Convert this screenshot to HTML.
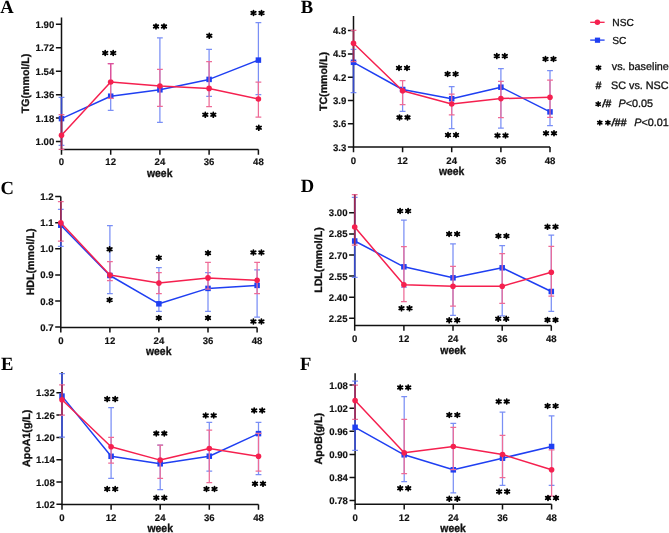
<!DOCTYPE html>
<html><head><meta charset="utf-8"><title>Lipid profile</title><style>
html,body{margin:0;padding:0;background:#fff;}
svg{display:block;will-change:transform;}
text{text-rendering:geometricPrecision;}
.lt{font-family:"Liberation Serif",serif;font-weight:bold;font-size:18.6px;fill:#000;}
.tl{font-family:"Liberation Sans",sans-serif;font-weight:bold;font-size:9.6px;fill:#111;stroke:#111;stroke-width:0.15px;text-rendering:geometricPrecision;}
.tt{font-family:"Liberation Sans",sans-serif;font-weight:bold;font-size:10.65px;fill:#111;stroke:#111;stroke-width:0.3px;}
.wk{font-family:"Liberation Sans",sans-serif;font-weight:bold;font-size:10.4px;fill:#111;stroke:#111;stroke-width:0.3px;}
.lg{font-family:"Liberation Sans",sans-serif;font-size:10.8px;fill:#111;stroke:#111;stroke-width:0.3px;}
.ax{stroke:#111;stroke-width:1.5;fill:none;}
.st2{stroke:#000;stroke-width:1.6;stroke-linecap:round;fill:none;}
.st{stroke:#000;stroke-width:1.8;stroke-linecap:round;fill:none;}
</style></head><body><svg width="669" height="533" viewBox="0 0 669 533">
<rect width="669" height="533" fill="#fff"/>
<text x="0.2" y="12.8" class="lt">A</text>
<path d="M61.5 17.4V149.5H258.4" class="ax"/>
<text transform="translate(54.3 27.84) scale(1 1.0)" class="tl" text-anchor="end">1.90</text>
<text transform="translate(54.3 51.29) scale(1 1.0)" class="tl" text-anchor="end">1.72</text>
<text transform="translate(54.3 74.74) scale(1 1.0)" class="tl" text-anchor="end">1.54</text>
<text transform="translate(54.3 98.19) scale(1 1.0)" class="tl" text-anchor="end">1.36</text>
<text transform="translate(54.3 121.64) scale(1 1.0)" class="tl" text-anchor="end">1.18</text>
<text transform="translate(54.3 145.09) scale(1 1.0)" class="tl" text-anchor="end">1.00</text>
<text transform="translate(61.5 165.04) scale(1 1.0)" class="tl" text-anchor="middle">0</text>
<text transform="translate(110.7 165.04) scale(1 1.0)" class="tl" text-anchor="middle">12</text>
<text transform="translate(159.9 165.04) scale(1 1.0)" class="tl" text-anchor="middle">24</text>
<text transform="translate(209.1 165.04) scale(1 1.0)" class="tl" text-anchor="middle">36</text>
<text transform="translate(258.4 165.04) scale(1 1.0)" class="tl" text-anchor="middle">48</text>
<path d="M55.9 24.3H61.5M55.9 47.75H61.5M55.9 71.2H61.5M55.9 94.65H61.5M55.9 118.1H61.5M55.9 141.55H61.5M61.5 149.5V154.7M110.7 149.5V154.7M159.9 149.5V154.7M209.1 149.5V154.7M258.4 149.5V154.7" class="ax"/>
<text transform="translate(28.6 83.45) rotate(-90)" class="tt" text-anchor="middle">TG(mmol/L)</text>
<text transform="translate(159.7 176.9) scale(1 1.1)" class="wk" text-anchor="middle">week</text>
<path d="M61.5 97.3V145.3M58.6 97.3H64.4M58.6 145.3H64.4M110.7 82V110.3M107.8 82H113.6M107.8 110.3H113.6M159.9 37.8V122.3M157 37.8H162.8M157 122.3H162.8M209.1 49.4V96.4M206.2 49.4H212M206.2 96.4H212M258.4 22.6V94.5M255.5 22.6H261.3M255.5 94.5H261.3" stroke="#7a8ff5" stroke-width="1.25" fill="none"/>
<path d="M61.5 97.3V145.3" stroke="#3548c8" stroke-width="1.5" fill="none"/>
<polyline points="61.5,118.6 110.7,96.2 159.9,89.8 209.1,79.4 258.4,60.1" stroke="#1f3ff2" stroke-width="1.5" fill="none" stroke-linejoin="round"/>
<rect x="58.75" y="115.85" width="5.5" height="5.5" fill="#1f3ff2"/>
<rect x="107.95" y="93.45" width="5.5" height="5.5" fill="#1f3ff2"/>
<rect x="157.15" y="87.05" width="5.5" height="5.5" fill="#1f3ff2"/>
<rect x="206.35" y="76.65" width="5.5" height="5.5" fill="#1f3ff2"/>
<rect x="255.65" y="57.35" width="5.5" height="5.5" fill="#1f3ff2"/>
<path d="M61.5 114.5V149.4M58.6 114.5H64.4M58.6 149.4H64.4M110.7 63.5V98.3M107.8 63.5H113.6M107.8 98.3H113.6M159.9 69.3V106.3M157 69.3H162.8M157 106.3H162.8M209.1 61.5V106.5M206.2 61.5H212M206.2 106.5H212M258.4 82.2V117M255.5 82.2H261.3M255.5 117H261.3" stroke="#ee6c97" stroke-width="1.25" fill="none"/>
<path d="M61.5 114.5V149.4" stroke="#9a2850" stroke-width="1.5" fill="none"/>
<polyline points="61.5,135.3 110.7,82 159.9,86 209.1,88.4 258.4,99" stroke="#f5204f" stroke-width="1.5" fill="none" stroke-linejoin="round"/>
<circle cx="61.5" cy="135.3" r="2.8" fill="#f5204f"/>
<circle cx="110.7" cy="82" r="2.8" fill="#f5204f"/>
<circle cx="159.9" cy="86" r="2.8" fill="#f5204f"/>
<circle cx="209.1" cy="88.4" r="2.8" fill="#f5204f"/>
<circle cx="258.4" cy="99" r="2.8" fill="#f5204f"/>
<path d="M110.7 63.5V79.5M107.8 63.5H113.6" stroke="#d9519f" stroke-width="1.25" fill="none"/>
<path d="M105.20 50.65L105.20 55.35M102.96 51.71L107.44 54.29M107.44 51.71L102.96 54.29M113.20 50.65L113.20 55.35M110.96 51.71L115.44 54.29M115.44 51.71L110.96 54.29M156.00 24.05L156.00 28.75M153.76 25.11L158.24 27.69M158.24 25.11L153.76 27.69M164.00 24.05L164.00 28.75M161.76 25.11L166.24 27.69M166.24 25.11L161.76 27.69M209.30 33.45L209.30 38.15M207.06 34.51L211.54 37.09M211.54 34.51L207.06 37.09M253.50 10.65L253.50 15.35M251.26 11.71L255.74 14.29M255.74 11.71L251.26 14.29M261.50 10.65L261.50 15.35M259.26 11.71L263.74 14.29M263.74 11.71L259.26 14.29M205.30 112.45L205.30 117.15M203.06 113.51L207.54 116.09M207.54 113.51L203.06 116.09M213.30 112.45L213.30 117.15M211.06 113.51L215.54 116.09M215.54 113.51L211.06 116.09M258.80 125.45L258.80 130.15M256.56 126.51L261.04 129.09M261.04 126.51L256.56 129.09" class="st"/>
<text x="300.8" y="13.4" class="lt">B</text>
<path d="M353.5 16V147.1H550" class="ax"/>
<text transform="translate(346.3 34.14) scale(1 1.0)" class="tl" text-anchor="end">4.8</text>
<text transform="translate(346.3 57.44) scale(1 1.0)" class="tl" text-anchor="end">4.5</text>
<text transform="translate(346.3 80.74) scale(1 1.0)" class="tl" text-anchor="end">4.2</text>
<text transform="translate(346.3 104.04) scale(1 1.0)" class="tl" text-anchor="end">3.9</text>
<text transform="translate(346.3 127.34) scale(1 1.0)" class="tl" text-anchor="end">3.6</text>
<text transform="translate(346.3 150.64) scale(1 1.0)" class="tl" text-anchor="end">3.3</text>
<text transform="translate(353.5 163.84) scale(1 1.0)" class="tl" text-anchor="middle">0</text>
<text transform="translate(402.6 163.84) scale(1 1.0)" class="tl" text-anchor="middle">12</text>
<text transform="translate(451.7 163.84) scale(1 1.0)" class="tl" text-anchor="middle">24</text>
<text transform="translate(500.9 163.84) scale(1 1.0)" class="tl" text-anchor="middle">36</text>
<text transform="translate(550 163.84) scale(1 1.0)" class="tl" text-anchor="middle">48</text>
<path d="M347.9 30.6H353.5M347.9 53.9H353.5M347.9 77.2H353.5M347.9 100.5H353.5M347.9 123.8H353.5M347.9 147.1H353.5M353.5 147.1V152.3M402.6 147.1V152.3M451.7 147.1V152.3M500.9 147.1V152.3M550 147.1V152.3" class="ax"/>
<text transform="translate(326.8 81.55) rotate(-90)" class="tt" text-anchor="middle">TC(mmol/L)</text>
<text transform="translate(451.6 175.3) scale(1 1.1)" class="wk" text-anchor="middle">week</text>
<path d="M353.5 49.3V92.6M350.6 49.3H356.4M350.6 92.6H356.4M402.6 88V111.3M399.7 88H405.5M399.7 111.3H405.5M451.7 86.5V128.5M448.8 86.5H454.6M448.8 128.5H454.6M500.9 68.5V128M498 68.5H503.8M498 128H503.8M550 70.5V125.5M547.1 70.5H552.9M547.1 125.5H552.9" stroke="#7a8ff5" stroke-width="1.25" fill="none"/>
<path d="M353.5 49.3V92.6" stroke="#3548c8" stroke-width="1.5" fill="none"/>
<polyline points="353.5,62.3 402.6,89.5 451.7,98.7 500.9,87.2 550,111.9" stroke="#1f3ff2" stroke-width="1.5" fill="none" stroke-linejoin="round"/>
<rect x="350.75" y="59.55" width="5.5" height="5.5" fill="#1f3ff2"/>
<rect x="399.85" y="86.75" width="5.5" height="5.5" fill="#1f3ff2"/>
<rect x="448.95" y="95.95" width="5.5" height="5.5" fill="#1f3ff2"/>
<rect x="498.15" y="84.45" width="5.5" height="5.5" fill="#1f3ff2"/>
<rect x="547.25" y="109.15" width="5.5" height="5.5" fill="#1f3ff2"/>
<path d="M353.5 30.3V61.7M350.6 30.3H356.4M350.6 61.7H356.4M402.6 80.5V104.6M399.7 80.5H405.5M399.7 104.6H405.5M451.7 94.2V114.9M448.8 94.2H454.6M448.8 114.9H454.6M500.9 81.3V117.5M498 81.3H503.8M498 117.5H503.8M550 80.2V117.4M547.1 80.2H552.9M547.1 117.4H552.9" stroke="#ee6c97" stroke-width="1.25" fill="none"/>
<path d="M353.5 30.3V61.7" stroke="#9a2850" stroke-width="1.5" fill="none"/>
<polyline points="353.5,43.3 402.6,90.8 451.7,104 500.9,98.6 550,97.3" stroke="#f5204f" stroke-width="1.5" fill="none" stroke-linejoin="round"/>
<circle cx="353.5" cy="43.3" r="2.8" fill="#f5204f"/>
<circle cx="402.6" cy="90.8" r="2.8" fill="#f5204f"/>
<circle cx="451.7" cy="104" r="2.8" fill="#f5204f"/>
<circle cx="500.9" cy="98.6" r="2.8" fill="#f5204f"/>
<circle cx="550" cy="97.3" r="2.8" fill="#f5204f"/>
<path d="M399.00 65.65L399.00 70.35M396.76 66.71L401.24 69.29M401.24 66.71L396.76 69.29M407.00 65.65L407.00 70.35M404.76 66.71L409.24 69.29M409.24 66.71L404.76 69.29M447.60 71.65L447.60 76.35M445.36 72.71L449.84 75.29M449.84 72.71L445.36 75.29M455.60 71.65L455.60 76.35M453.36 72.71L457.84 75.29M457.84 72.71L453.36 75.29M496.80 53.75L496.80 58.45M494.56 54.81L499.04 57.39M499.04 54.81L494.56 57.39M504.80 53.75L504.80 58.45M502.56 54.81L507.04 57.39M507.04 54.81L502.56 57.39M545.50 56.65L545.50 61.35M543.26 57.71L547.74 60.29M547.74 57.71L543.26 60.29M553.50 56.65L553.50 61.35M551.26 57.71L555.74 60.29M555.74 57.71L551.26 60.29M399.50 115.05L399.50 119.75M397.26 116.11L401.74 118.69M401.74 116.11L397.26 118.69M407.50 115.05L407.50 119.75M405.26 116.11L409.74 118.69M409.74 116.11L405.26 118.69M448.00 132.65L448.00 137.35M445.76 133.71L450.24 136.29M450.24 133.71L445.76 136.29M456.00 132.65L456.00 137.35M453.76 133.71L458.24 136.29M458.24 133.71L453.76 136.29M497.50 133.15L497.50 137.85M495.26 134.21L499.74 136.79M499.74 134.21L495.26 136.79M505.50 133.15L505.50 137.85M503.26 134.21L507.74 136.79M507.74 134.21L503.26 136.79M546.00 130.85L546.00 135.55M543.76 131.91L548.24 134.49M548.24 131.91L543.76 134.49M554.00 130.85L554.00 135.55M551.76 131.91L556.24 134.49M556.24 131.91L551.76 134.49" class="st"/>
<text x="0.5" y="193.7" class="lt">C</text>
<path d="M60.8 196.5V327.4H257.1" class="ax"/>
<text transform="translate(53.6 200.14) scale(1 1.0)" class="tl" text-anchor="end">1.2</text>
<text transform="translate(53.6 226.24) scale(1 1.0)" class="tl" text-anchor="end">1.1</text>
<text transform="translate(53.6 252.34) scale(1 1.0)" class="tl" text-anchor="end">1.0</text>
<text transform="translate(53.6 278.44) scale(1 1.0)" class="tl" text-anchor="end">0.9</text>
<text transform="translate(53.6 304.54) scale(1 1.0)" class="tl" text-anchor="end">0.8</text>
<text transform="translate(53.6 330.64) scale(1 1.0)" class="tl" text-anchor="end">0.7</text>
<text transform="translate(60.8 344.14) scale(1 1.0)" class="tl" text-anchor="middle">0</text>
<text transform="translate(109.9 344.14) scale(1 1.0)" class="tl" text-anchor="middle">12</text>
<text transform="translate(158.9 344.14) scale(1 1.0)" class="tl" text-anchor="middle">24</text>
<text transform="translate(208 344.14) scale(1 1.0)" class="tl" text-anchor="middle">36</text>
<text transform="translate(257.1 344.14) scale(1 1.0)" class="tl" text-anchor="middle">48</text>
<path d="M55.2 196.6H60.8M55.2 222.7H60.8M55.2 248.8H60.8M55.2 274.9H60.8M55.2 301H60.8M55.2 327.1H60.8M60.8 327.4V332.6M109.9 327.4V332.6M158.9 327.4V332.6M208 327.4V332.6M257.1 327.4V332.6" class="ax"/>
<text transform="translate(33.6 261.95) rotate(-90)" class="tt" text-anchor="middle">HDL(mmol/L)</text>
<text transform="translate(158.7 355.1) scale(1 1.1)" class="wk" text-anchor="middle">week</text>
<path d="M60.8 209.3V246.3M57.9 209.3H63.7M57.9 246.3H63.7M109.9 225.5V293.5M107 225.5H112.8M107 293.5H112.8M158.9 267.6V311.3M156 267.6H161.8M156 311.3H161.8M208 272.6V311.3M205.1 272.6H210.9M205.1 311.3H210.9M257.1 269.8V317M254.2 269.8H260M254.2 317H260" stroke="#7a8ff5" stroke-width="1.25" fill="none"/>
<path d="M60.8 209.3V246.3" stroke="#3548c8" stroke-width="1.5" fill="none"/>
<polyline points="60.8,225.2 109.9,275.5 158.9,303.8 208,288.4 257.1,285.4" stroke="#1f3ff2" stroke-width="1.5" fill="none" stroke-linejoin="round"/>
<rect x="58.05" y="222.45" width="5.5" height="5.5" fill="#1f3ff2"/>
<rect x="107.15" y="272.75" width="5.5" height="5.5" fill="#1f3ff2"/>
<rect x="156.15" y="301.05" width="5.5" height="5.5" fill="#1f3ff2"/>
<rect x="205.25" y="285.65" width="5.5" height="5.5" fill="#1f3ff2"/>
<rect x="254.35" y="282.65" width="5.5" height="5.5" fill="#1f3ff2"/>
<path d="M60.8 201.5V241M57.9 201.5H63.7M57.9 241H63.7M109.9 261.7V280.5M107 261.7H112.8M107 280.5H112.8M158.9 272.6V293.5M156 272.6H161.8M156 293.5H161.8M208 262.3V289M205.1 262.3H210.9M205.1 289H210.9M257.1 262.3V293.5M254.2 262.3H260M254.2 293.5H260" stroke="#ee6c97" stroke-width="1.25" fill="none"/>
<path d="M60.8 201.5V241" stroke="#9a2850" stroke-width="1.5" fill="none"/>
<polyline points="60.8,222.8 109.9,275.1 158.9,283.1 208,277.9 257.1,280.3" stroke="#f5204f" stroke-width="1.5" fill="none" stroke-linejoin="round"/>
<circle cx="60.8" cy="222.8" r="2.8" fill="#f5204f"/>
<circle cx="109.9" cy="275.1" r="2.8" fill="#f5204f"/>
<circle cx="158.9" cy="283.1" r="2.8" fill="#f5204f"/>
<circle cx="208" cy="277.9" r="2.8" fill="#f5204f"/>
<circle cx="257.1" cy="280.3" r="2.8" fill="#f5204f"/>
<path d="M109.60 246.95L109.60 251.65M107.36 248.01L111.84 250.59M111.84 248.01L107.36 250.59M158.80 255.45L158.80 260.15M156.56 256.51L161.04 259.09M161.04 256.51L156.56 259.09M208.00 250.75L208.00 255.45M205.76 251.81L210.24 254.39M210.24 251.81L205.76 254.39M253.40 250.15L253.40 254.85M251.16 251.21L255.64 253.79M255.64 251.21L251.16 253.79M261.40 250.15L261.40 254.85M259.16 251.21L263.64 253.79M263.64 251.21L259.16 253.79M109.60 297.65L109.60 302.35M107.36 298.71L111.84 301.29M111.84 298.71L107.36 301.29M158.80 315.55L158.80 320.25M156.56 316.61L161.04 319.19M161.04 316.61L156.56 319.19M208.00 315.55L208.00 320.25M205.76 316.61L210.24 319.19M210.24 316.61L205.76 319.19M253.40 319.15L253.40 323.85M251.16 320.21L255.64 322.79M255.64 320.21L251.16 322.79M261.40 319.15L261.40 323.85M259.16 320.21L263.64 322.79M263.64 320.21L259.16 322.79" class="st"/>
<text x="300.8" y="191.8" class="lt">D</text>
<path d="M354.7 194.5V325.6H551.3" class="ax"/>
<text transform="translate(347.5 216.34) scale(1 1.0)" class="tl" text-anchor="end">3.00</text>
<text transform="translate(347.5 237.44) scale(1 1.0)" class="tl" text-anchor="end">2.85</text>
<text transform="translate(347.5 258.54) scale(1 1.0)" class="tl" text-anchor="end">2.70</text>
<text transform="translate(347.5 279.64) scale(1 1.0)" class="tl" text-anchor="end">2.55</text>
<text transform="translate(347.5 300.74) scale(1 1.0)" class="tl" text-anchor="end">2.40</text>
<text transform="translate(347.5 321.84) scale(1 1.0)" class="tl" text-anchor="end">2.25</text>
<text transform="translate(354.7 342.34) scale(1 1.0)" class="tl" text-anchor="middle">0</text>
<text transform="translate(403.9 342.34) scale(1 1.0)" class="tl" text-anchor="middle">12</text>
<text transform="translate(453 342.34) scale(1 1.0)" class="tl" text-anchor="middle">24</text>
<text transform="translate(502.2 342.34) scale(1 1.0)" class="tl" text-anchor="middle">36</text>
<text transform="translate(551.3 342.34) scale(1 1.0)" class="tl" text-anchor="middle">48</text>
<path d="M349.1 212.8H354.7M349.1 233.9H354.7M349.1 255H354.7M349.1 276.1H354.7M349.1 297.2H354.7M349.1 318.3H354.7M354.7 325.6V330.8M403.9 325.6V330.8M453 325.6V330.8M502.2 325.6V330.8M551.3 325.6V330.8" class="ax"/>
<text transform="translate(322.2 260.05) rotate(-90)" class="tt" text-anchor="middle">LDL(mmol/L)</text>
<text transform="translate(453 354) scale(1 1.1)" class="wk" text-anchor="middle">week</text>
<path d="M354.7 197.3V277.3M351.8 197.3H357.6M351.8 277.3H357.6M403.9 220V287.1M401 220H406.8M401 287.1H406.8M453 243.8V315.4M450.1 243.8H455.9M450.1 315.4H455.9M502.2 245.6V315.8M499.3 245.6H505.1M499.3 315.8H505.1M551.3 235.2V311.3M548.4 235.2H554.2M548.4 311.3H554.2" stroke="#7a8ff5" stroke-width="1.25" fill="none"/>
<path d="M354.7 197.3V277.3" stroke="#3548c8" stroke-width="1.5" fill="none"/>
<polyline points="354.7,241 403.9,266.8 453,277.8 502.2,267.8 551.3,291.5" stroke="#1f3ff2" stroke-width="1.5" fill="none" stroke-linejoin="round"/>
<rect x="351.95" y="238.25" width="5.5" height="5.5" fill="#1f3ff2"/>
<rect x="401.15" y="264.05" width="5.5" height="5.5" fill="#1f3ff2"/>
<rect x="450.25" y="275.05" width="5.5" height="5.5" fill="#1f3ff2"/>
<rect x="499.45" y="265.05" width="5.5" height="5.5" fill="#1f3ff2"/>
<rect x="548.55" y="288.75" width="5.5" height="5.5" fill="#1f3ff2"/>
<path d="M354.7 194.5V245M351.8 194.5H357.6M351.8 245H357.6M403.9 246.6V301.5M401 246.6H406.8M401 301.5H406.8M453 266.4V306M450.1 266.4H455.9M450.1 306H455.9M502.2 253.6V303.3M499.3 253.6H505.1M499.3 303.3H505.1M551.3 246.4V296M548.4 246.4H554.2M548.4 296H554.2" stroke="#ee6c97" stroke-width="1.25" fill="none"/>
<path d="M354.7 194.5V245" stroke="#9a2850" stroke-width="1.5" fill="none"/>
<polyline points="354.7,227 403.9,284.8 453,286.2 502.2,286.2 551.3,272.2" stroke="#f5204f" stroke-width="1.5" fill="none" stroke-linejoin="round"/>
<circle cx="354.7" cy="227" r="2.8" fill="#f5204f"/>
<circle cx="403.9" cy="284.8" r="2.8" fill="#f5204f"/>
<circle cx="453" cy="286.2" r="2.8" fill="#f5204f"/>
<circle cx="502.2" cy="286.2" r="2.8" fill="#f5204f"/>
<circle cx="551.3" cy="272.2" r="2.8" fill="#f5204f"/>
<path d="M400.10 208.65L400.10 213.35M397.86 209.71L402.34 212.29M402.34 209.71L397.86 212.29M408.10 208.65L408.10 213.35M405.86 209.71L410.34 212.29M410.34 209.71L405.86 212.29M449.10 231.65L449.10 236.35M446.86 232.71L451.34 235.29M451.34 232.71L446.86 235.29M457.10 231.65L457.10 236.35M454.86 232.71L459.34 235.29M459.34 232.71L454.86 235.29M498.40 233.65L498.40 238.35M496.16 234.71L500.64 237.29M500.64 234.71L496.16 237.29M506.40 233.65L506.40 238.35M504.16 234.71L508.64 237.29M508.64 234.71L504.16 237.29M547.50 224.45L547.50 229.15M545.26 225.51L549.74 228.09M549.74 225.51L545.26 228.09M555.50 224.45L555.50 229.15M553.26 225.51L557.74 228.09M557.74 225.51L553.26 228.09M401.50 305.95L401.50 310.65M399.26 307.01L403.74 309.59M403.74 307.01L399.26 309.59M409.50 305.95L409.50 310.65M407.26 307.01L411.74 309.59M411.74 307.01L407.26 309.59M449.20 317.95L449.20 322.65M446.96 319.01L451.44 321.59M451.44 319.01L446.96 321.59M457.20 317.95L457.20 322.65M454.96 319.01L459.44 321.59M459.44 319.01L454.96 321.59M498.20 316.45L498.20 321.15M495.96 317.51L500.44 320.09M500.44 317.51L495.96 320.09M506.20 316.45L506.20 321.15M503.96 317.51L508.44 320.09M508.44 317.51L503.96 320.09M547.50 317.55L547.50 322.25M545.26 318.61L549.74 321.19M549.74 318.61L545.26 321.19M555.50 317.55L555.50 322.25M553.26 318.61L557.74 321.19M557.74 318.61L553.26 321.19" class="st"/>
<text x="1.1" y="370.1" class="lt">E</text>
<path d="M62 372V504.5H258.5" class="ax"/>
<text transform="translate(54.8 396.34) scale(1 1.0)" class="tl" text-anchor="end">1.32</text>
<text transform="translate(54.8 418.64) scale(1 1.0)" class="tl" text-anchor="end">1.26</text>
<text transform="translate(54.8 440.94) scale(1 1.0)" class="tl" text-anchor="end">1.20</text>
<text transform="translate(54.8 463.24) scale(1 1.0)" class="tl" text-anchor="end">1.14</text>
<text transform="translate(54.8 485.54) scale(1 1.0)" class="tl" text-anchor="end">1.08</text>
<text transform="translate(54.8 507.84) scale(1 1.0)" class="tl" text-anchor="end">1.02</text>
<text transform="translate(62 521.24) scale(1 1.0)" class="tl" text-anchor="middle">0</text>
<text transform="translate(111.1 521.24) scale(1 1.0)" class="tl" text-anchor="middle">12</text>
<text transform="translate(160.2 521.24) scale(1 1.0)" class="tl" text-anchor="middle">24</text>
<text transform="translate(209.3 521.24) scale(1 1.0)" class="tl" text-anchor="middle">36</text>
<text transform="translate(258.5 521.24) scale(1 1.0)" class="tl" text-anchor="middle">48</text>
<path d="M56.4 392.8H62M56.4 415.1H62M56.4 437.4H62M56.4 459.7H62M56.4 482H62M56.4 504.3H62M62 504.5V509.7M111.1 504.5V509.7M160.2 504.5V509.7M209.3 504.5V509.7M258.5 504.5V509.7" class="ax"/>
<text transform="translate(29.8 438.25) rotate(-90)" class="tt" text-anchor="middle">ApoA1(g/L)</text>
<text transform="translate(160.2 532) scale(1 1.1)" class="wk" text-anchor="middle">week</text>
<path d="M62 373.6V437.2M59.1 373.6H64.9M59.1 437.2H64.9M111.1 407.5V478.3M108.2 407.5H114M108.2 478.3H114M160.2 445.1V489.6M157.3 445.1H163.1M157.3 489.6H163.1M209.3 422.4V471.2M206.4 422.4H212.2M206.4 471.2H212.2M258.5 422.4V474.6M255.6 422.4H261.4M255.6 474.6H261.4" stroke="#7a8ff5" stroke-width="1.25" fill="none"/>
<path d="M62 373.6V437.2" stroke="#3548c8" stroke-width="1.5" fill="none"/>
<polyline points="62,396.1 111.1,456.3 160.2,463.8 209.3,456.2 258.5,433.6" stroke="#1f3ff2" stroke-width="1.5" fill="none" stroke-linejoin="round"/>
<rect x="59.25" y="393.35" width="5.5" height="5.5" fill="#1f3ff2"/>
<rect x="108.35" y="453.55" width="5.5" height="5.5" fill="#1f3ff2"/>
<rect x="157.45" y="461.05" width="5.5" height="5.5" fill="#1f3ff2"/>
<rect x="206.55" y="453.45" width="5.5" height="5.5" fill="#1f3ff2"/>
<rect x="255.75" y="430.85" width="5.5" height="5.5" fill="#1f3ff2"/>
<path d="M62 384.8V415M59.1 384.8H64.9M59.1 415H64.9M111.1 437.3V463M108.2 437.3H114M108.2 463H114M160.2 445.1V478.3M157.3 445.1H163.1M157.3 478.3H163.1M209.3 430V482.5M206.4 430H212.2M206.4 482.5H212.2M258.5 433.3V471M255.6 433.3H261.4M255.6 471H261.4" stroke="#ee6c97" stroke-width="1.25" fill="none"/>
<path d="M62 384.8V415" stroke="#9a2850" stroke-width="1.5" fill="none"/>
<polyline points="62,399.8 111.1,446.8 160.2,460.1 209.3,448.5 258.5,456.3" stroke="#f5204f" stroke-width="1.5" fill="none" stroke-linejoin="round"/>
<circle cx="62" cy="399.8" r="2.8" fill="#f5204f"/>
<circle cx="111.1" cy="446.8" r="2.8" fill="#f5204f"/>
<circle cx="160.2" cy="460.1" r="2.8" fill="#f5204f"/>
<circle cx="209.3" cy="448.5" r="2.8" fill="#f5204f"/>
<circle cx="258.5" cy="456.3" r="2.8" fill="#f5204f"/>
<path d="M107.20 396.75L107.20 401.45M104.96 397.81L109.44 400.39M109.44 397.81L104.96 400.39M115.20 396.75L115.20 401.45M112.96 397.81L117.44 400.39M117.44 397.81L112.96 400.39M156.30 431.05L156.30 435.75M154.06 432.11L158.54 434.69M158.54 432.11L154.06 434.69M164.30 431.05L164.30 435.75M162.06 432.11L166.54 434.69M166.54 432.11L162.06 434.69M205.70 413.15L205.70 417.85M203.46 414.21L207.94 416.79M207.94 414.21L203.46 416.79M213.70 413.15L213.70 417.85M211.46 414.21L215.94 416.79M215.94 414.21L211.46 416.79M254.20 408.15L254.20 412.85M251.96 409.21L256.44 411.79M256.44 409.21L251.96 411.79M262.20 408.15L262.20 412.85M259.96 409.21L264.44 411.79M264.44 409.21L259.96 411.79M107.20 486.65L107.20 491.35M104.96 487.71L109.44 490.29M109.44 487.71L104.96 490.29M115.20 486.65L115.20 491.35M112.96 487.71L117.44 490.29M117.44 487.71L112.96 490.29M156.30 495.35L156.30 500.05M154.06 496.41L158.54 498.99M158.54 496.41L154.06 498.99M164.30 495.35L164.30 500.05M162.06 496.41L166.54 498.99M166.54 496.41L162.06 498.99M206.50 486.65L206.50 491.35M204.26 487.71L208.74 490.29M208.74 487.71L204.26 490.29M214.50 486.65L214.50 491.35M212.26 487.71L216.74 490.29M216.74 487.71L212.26 490.29M255.00 481.45L255.00 486.15M252.76 482.51L257.24 485.09M257.24 482.51L252.76 485.09M263.00 481.45L263.00 486.15M260.76 482.51L265.24 485.09M265.24 482.51L260.76 485.09" class="st"/>
<text x="300.1" y="369.5" class="lt">F</text>
<path d="M355.1 373.3V504.2H551.6" class="ax"/>
<text transform="translate(347.9 388.64) scale(1 1.0)" class="tl" text-anchor="end">1.08</text>
<text transform="translate(347.9 411.74) scale(1 1.0)" class="tl" text-anchor="end">1.02</text>
<text transform="translate(347.9 434.84) scale(1 1.0)" class="tl" text-anchor="end">0.96</text>
<text transform="translate(347.9 457.94) scale(1 1.0)" class="tl" text-anchor="end">0.90</text>
<text transform="translate(347.9 481.04) scale(1 1.0)" class="tl" text-anchor="end">0.84</text>
<text transform="translate(347.9 504.14) scale(1 1.0)" class="tl" text-anchor="end">0.78</text>
<text transform="translate(355.1 520.94) scale(1 1.0)" class="tl" text-anchor="middle">0</text>
<text transform="translate(404.2 520.94) scale(1 1.0)" class="tl" text-anchor="middle">12</text>
<text transform="translate(453.3 520.94) scale(1 1.0)" class="tl" text-anchor="middle">24</text>
<text transform="translate(502.5 520.94) scale(1 1.0)" class="tl" text-anchor="middle">36</text>
<text transform="translate(551.6 520.94) scale(1 1.0)" class="tl" text-anchor="middle">48</text>
<path d="M349.5 385.1H355.1M349.5 408.2H355.1M349.5 431.3H355.1M349.5 454.4H355.1M349.5 477.5H355.1M349.5 500.6H355.1M355.1 504.2V509.4M404.2 504.2V509.4M453.3 504.2V509.4M502.5 504.2V509.4M551.6 504.2V509.4" class="ax"/>
<text transform="translate(322.2 438.75) rotate(-90)" class="tt" text-anchor="middle">ApoB(g/L)</text>
<text transform="translate(453 532.2) scale(1 1.1)" class="wk" text-anchor="middle">week</text>
<path d="M355.1 381.2V450.3M352.2 381.2H358M352.2 450.3H358M404.2 396.5V481.5M401.3 396.5H407.1M401.3 481.5H407.1M453.3 423.3V492.8M450.4 423.3H456.2M450.4 492.8H456.2M502.5 412V485.3M499.6 412H505.4M499.6 485.3H505.4M551.6 415.8V485.3M548.7 415.8H554.5M548.7 485.3H554.5" stroke="#7a8ff5" stroke-width="1.25" fill="none"/>
<path d="M355.1 381.2V450.3" stroke="#3548c8" stroke-width="1.5" fill="none"/>
<polyline points="355.1,427.3 404.2,454.8 453.3,469.8 502.5,458.2 551.6,446.5" stroke="#1f3ff2" stroke-width="1.5" fill="none" stroke-linejoin="round"/>
<rect x="352.35" y="424.55" width="5.5" height="5.5" fill="#1f3ff2"/>
<rect x="401.45" y="452.05" width="5.5" height="5.5" fill="#1f3ff2"/>
<rect x="450.55" y="467.05" width="5.5" height="5.5" fill="#1f3ff2"/>
<rect x="499.75" y="455.45" width="5.5" height="5.5" fill="#1f3ff2"/>
<rect x="548.85" y="443.75" width="5.5" height="5.5" fill="#1f3ff2"/>
<path d="M355.1 385V419.4M352.2 385H358M352.2 419.4H358M404.2 419.4V473.5M401.3 419.4H407.1M401.3 473.5H407.1M453.3 427.4V469.6M450.4 427.4H456.2M450.4 469.6H456.2M502.5 435.3V477.6M499.6 435.3H505.4M499.6 477.6H505.4M551.6 449.8V496M548.7 449.8H554.5M548.7 496H554.5" stroke="#ee6c97" stroke-width="1.25" fill="none"/>
<path d="M355.1 385V419.4" stroke="#9a2850" stroke-width="1.5" fill="none"/>
<polyline points="355.1,400.6 404.2,452.8 453.3,446.5 502.5,454.5 551.6,469.8" stroke="#f5204f" stroke-width="1.5" fill="none" stroke-linejoin="round"/>
<circle cx="355.1" cy="400.6" r="2.8" fill="#f5204f"/>
<circle cx="404.2" cy="452.8" r="2.8" fill="#f5204f"/>
<circle cx="453.3" cy="446.5" r="2.8" fill="#f5204f"/>
<circle cx="502.5" cy="454.5" r="2.8" fill="#f5204f"/>
<circle cx="551.6" cy="469.8" r="2.8" fill="#f5204f"/>
<path d="M400.20 385.15L400.20 389.85M397.96 386.21L402.44 388.79M402.44 386.21L397.96 388.79M408.20 385.15L408.20 389.85M405.96 386.21L410.44 388.79M410.44 386.21L405.96 388.79M449.30 412.65L449.30 417.35M447.06 413.71L451.54 416.29M451.54 413.71L447.06 416.29M457.30 412.65L457.30 417.35M455.06 413.71L459.54 416.29M459.54 413.71L455.06 416.29M498.70 399.15L498.70 403.85M496.46 400.21L500.94 402.79M500.94 400.21L496.46 402.79M506.70 399.15L506.70 403.85M504.46 400.21L508.94 402.79M508.94 400.21L504.46 402.79M547.60 403.65L547.60 408.35M545.36 404.71L549.84 407.29M549.84 404.71L545.36 407.29M555.60 403.65L555.60 408.35M553.36 404.71L557.84 407.29M557.84 404.71L553.36 407.29M400.20 485.95L400.20 490.65M397.96 487.01L402.44 489.59M402.44 487.01L397.96 489.59M408.20 485.95L408.20 490.65M405.96 487.01L410.44 489.59M410.44 487.01L405.96 489.59M449.30 496.45L449.30 501.15M447.06 497.51L451.54 500.09M451.54 497.51L447.06 500.09M457.30 496.45L457.30 501.15M455.06 497.51L459.54 500.09M459.54 497.51L455.06 500.09M499.10 489.25L499.10 493.95M496.86 490.31L501.34 492.89M501.34 490.31L496.86 492.89M507.10 489.25L507.10 493.95M504.86 490.31L509.34 492.89M509.34 490.31L504.86 492.89M548.00 495.55L548.00 500.25M545.76 496.61L550.24 499.19M550.24 496.61L545.76 499.19M556.00 495.55L556.00 500.25M553.76 496.61L558.24 499.19M558.24 496.61L553.76 499.19" class="st"/>
<path d="M590.2 22.3H604.6" stroke="#f5204f" stroke-width="1.3"/><circle cx="597.4" cy="22.3" r="2.75" fill="#f5204f"/>
<path d="M590.2 40.1H604.6" stroke="#1f3ff2" stroke-width="1.3"/><rect x="594.9" y="37.6" width="5.2" height="5.2" fill="#1f3ff2"/>
<text x="612.3" y="26.4" class="lg" font-size="10.2px" style="font-size:10.2px">NSC</text>
<text x="612.3" y="44.4" class="lg" style="font-size:10.2px">SC</text>
<path d="M598.50 65.45L598.50 69.95M596.36 66.46L600.64 68.94M600.64 66.46L596.36 68.94" class="st2"/>
<text x="611.8" y="70" class="lg">vs. baseline</text>
<text x="595.6" y="88.6" class="lg" font-weight="bold" stroke="#111" stroke-width="0.25">#</text>
<text x="611" y="88.6" class="lg">SC vs. NSC</text>
<path d="M598.20 101.90L598.20 106.30M596.10 102.89L600.30 105.31M600.30 102.89L596.10 105.31" class="st2"/>
<text x="602.2" y="106.6" class="lg" font-style="italic" font-weight="bold">/#</text>
<text x="618.5" y="106.6" class="lg"><tspan font-style="italic">P</tspan>&lt;0.05</text>
<path d="M599.80 120.50L599.80 124.90M597.70 121.49L601.90 123.91M601.90 121.49L597.70 123.91M607.90 120.50L607.90 124.90M605.80 121.49L610.00 123.91M610.00 121.49L605.80 123.91" class="st2"/>
<text x="611.4" y="125.6" class="lg" font-style="italic" font-weight="bold">/##</text>
<text x="634.3" y="125.6" class="lg"><tspan font-style="italic">P</tspan>&lt;0.01</text>
</svg></body></html>
